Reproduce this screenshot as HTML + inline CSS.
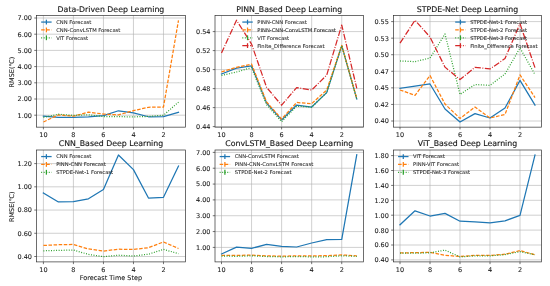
<!DOCTYPE html>
<html lang="en"><head><meta charset="utf-8"><title>RMSE forecast comparison</title>
<style>html,body{margin:0;padding:0;background:#fff}svg{display:block}text{font-family:"DejaVu Sans","Liberation Sans",sans-serif;fill:#1a1a1a;stroke:#1a1a1a;stroke-width:0.15px}.t{font-size:7.82px}.k{font-size:6.5px}.k{stroke-width:0.08px}.l{font-size:5.23px;stroke-width:0.05px}</style></head><body>
<svg width="550" height="286" viewBox="0 0 550 286">
<rect width="550" height="286" fill="#fff"/>
<g>
<path d="M43.4 15.5V127.15M73.42 15.5V127.15M103.44 15.5V127.15M133.46 15.5V127.15M163.48 15.5V127.15M36.5 115.2H185.4M36.5 99H185.4M36.5 82.8H185.4M36.5 66.6H185.4M36.5 50.4H185.4M36.5 34.2H185.4M36.5 18H185.4" stroke="#b0b0b0" stroke-width="0.6" fill="none"/>
<path d="M43.4 127.15v2.25M73.42 127.15v2.25M103.44 127.15v2.25M133.46 127.15v2.25M163.48 127.15v2.25M36.5 115.2h-2.25M36.5 99h-2.25M36.5 82.8h-2.25M36.5 66.6h-2.25M36.5 50.4h-2.25M36.5 34.2h-2.25M36.5 18h-2.25" stroke="#000" stroke-width="0.55" fill="none"/>
<clipPath id="c00"><rect x="36.5" y="15.5" width="148.9" height="111.65"/></clipPath>
<g clip-path="url(#c00)" fill="none" stroke-width="1.25" stroke-linejoin="round">
<polyline points="43.4,116.06 58.41,117.31 73.42,117.26 88.43,116.87 103.44,115.57 118.45,110.76 133.46,112.8 148.47,116.76 163.48,116.66 178.49,112.3" stroke="#1f77b4" stroke-linecap="square"/>
<polyline points="43.4,121.96 58.41,114.88 73.42,116.22 88.43,112.12 103.44,114.07 118.45,114.8 133.46,110.7 148.47,107.26 163.48,107.02 178.49,20.43" stroke="#ff7f0e" stroke-dasharray="3.55,1.54"/>
<polyline points="43.4,117.29 58.41,114.24 73.42,115.38 88.43,114.81 103.44,116.51 118.45,116.67 133.46,116.85 148.47,116.42 163.48,115.25 178.49,102.11" stroke="#2ca02c" stroke-dasharray="0.96,1.58"/>
</g>
<rect x="36.5" y="15.5" width="148.9" height="111.65" fill="none" stroke="#303030" stroke-width="0.7"/>
<text class="k" x="43.4" y="137.05" text-anchor="middle">10</text>
<text class="k" x="73.42" y="137.05" text-anchor="middle">8</text>
<text class="k" x="103.44" y="137.05" text-anchor="middle">6</text>
<text class="k" x="133.46" y="137.05" text-anchor="middle">4</text>
<text class="k" x="163.48" y="137.05" text-anchor="middle">2</text>
<text class="k" x="32" y="117.6" text-anchor="end">1.00</text>
<text class="k" x="32" y="101.4" text-anchor="end">2.00</text>
<text class="k" x="32" y="85.2" text-anchor="end">3.00</text>
<text class="k" x="32" y="69" text-anchor="end">4.00</text>
<text class="k" x="32" y="52.8" text-anchor="end">5.00</text>
<text class="k" x="32" y="36.6" text-anchor="end">6.00</text>
<text class="k" x="32" y="20.4" text-anchor="end">7.00</text>
<text class="t" x="110.95" y="11.6" text-anchor="middle">Data-Driven Deep Learning</text>
<text class="k" transform="translate(14.4 72.12) rotate(-90)" text-anchor="middle">RMSE(℃)</text>
<path d="M41.16 22.07h10.46" stroke="#1f77b4" stroke-width="1.25" fill="none"/>
<path d="M46.39 19.68v4.8" stroke="#1f77b4" stroke-width="1.25" fill="none"/>
<text class="l" x="56.16" y="23.97">CNN Forecast</text>
<path d="M41.16 29.92h10.46" stroke="#ff7f0e" stroke-width="1.25" stroke-dasharray="3.55,1.54" fill="none"/>
<path d="M46.39 27.52v4.8" stroke="#ff7f0e" stroke-width="1.25" fill="none"/>
<text class="l" x="56.16" y="31.82">CNN-ConvLSTM Forecast</text>
<path d="M41.16 37.77h10.46" stroke="#2ca02c" stroke-width="1.25" stroke-dasharray="0.96,1.58" fill="none"/>
<path d="M46.39 35.37v4.8" stroke="#2ca02c" stroke-width="1.25" fill="none"/>
<text class="l" x="56.16" y="39.66">ViT Forecast</text>
</g>
<g>
<path d="M221.5 15.5V127.15M251.56 15.5V127.15M281.62 15.5V127.15M311.68 15.5V127.15M341.74 15.5V127.15M215 126.6H363.5M215 107.6H363.5M215 88.6H363.5M215 69.6H363.5M215 50.6H363.5M215 31.6H363.5" stroke="#b0b0b0" stroke-width="0.6" fill="none"/>
<path d="M221.5 127.15v2.25M251.56 127.15v2.25M281.62 127.15v2.25M311.68 127.15v2.25M341.74 127.15v2.25M215 126.6h-2.25M215 107.6h-2.25M215 88.6h-2.25M215 69.6h-2.25M215 50.6h-2.25M215 31.6h-2.25" stroke="#000" stroke-width="0.55" fill="none"/>
<clipPath id="c10"><rect x="215" y="15.5" width="148.5" height="111.65"/></clipPath>
<g clip-path="url(#c10)" fill="none" stroke-width="1.25" stroke-linejoin="round">
<polyline points="221.5,74.06 236.53,68.18 251.56,65.99 266.59,103.04 281.62,119.95 296.65,105.03 311.68,107.03 326.71,92.59 341.74,45.66 356.77,98.95" stroke="#1f77b4" stroke-linecap="square"/>
<polyline points="221.5,71.79 236.53,67.32 251.56,64.09 266.59,102 281.62,119 296.65,102.47 311.68,103.61 326.71,90.03 341.74,45.38 356.77,98.58" stroke="#ff7f0e" stroke-dasharray="3.55,1.54"/>
<polyline points="221.5,75.49 236.53,71.98 251.56,67.61 266.59,104.75 281.62,121.66 296.65,106.17 311.68,107.12 326.71,92.4 341.74,45.85 356.77,99.05" stroke="#2ca02c" stroke-dasharray="0.96,1.58"/>
<polyline points="221.5,53.07 236.53,20.2 251.56,44.14 266.59,87.37 281.62,105.22 296.65,87.55 311.68,90.03 326.71,75.11 341.74,25.04 356.77,88.32" stroke="#d62728" stroke-dasharray="6.14,1.54,0.96,1.54"/>
</g>
<rect x="215" y="15.5" width="148.5" height="111.65" fill="none" stroke="#303030" stroke-width="0.7"/>
<text class="k" x="221.5" y="137.05" text-anchor="middle">10</text>
<text class="k" x="251.56" y="137.05" text-anchor="middle">8</text>
<text class="k" x="281.62" y="137.05" text-anchor="middle">6</text>
<text class="k" x="311.68" y="137.05" text-anchor="middle">4</text>
<text class="k" x="341.74" y="137.05" text-anchor="middle">2</text>
<text class="k" x="210.5" y="129" text-anchor="end">0.44</text>
<text class="k" x="210.5" y="110" text-anchor="end">0.46</text>
<text class="k" x="210.5" y="91" text-anchor="end">0.48</text>
<text class="k" x="210.5" y="72" text-anchor="end">0.50</text>
<text class="k" x="210.5" y="53" text-anchor="end">0.52</text>
<text class="k" x="210.5" y="34" text-anchor="end">0.54</text>
<text class="t" x="289.25" y="11.6" text-anchor="middle">PINN_Based Deep Learning</text>
<path d="M242.3 22.07h10.46" stroke="#1f77b4" stroke-width="1.25" fill="none"/>
<path d="M247.53 19.68v4.8" stroke="#1f77b4" stroke-width="1.25" fill="none"/>
<text class="l" x="257.3" y="23.97">PINN-CNN Forecast</text>
<path d="M242.3 29.92h10.46" stroke="#ff7f0e" stroke-width="1.25" stroke-dasharray="3.55,1.54" fill="none"/>
<path d="M247.53 27.52v4.8" stroke="#ff7f0e" stroke-width="1.25" fill="none"/>
<text class="l" x="257.3" y="31.82">PINN-CNN-ConvLSTM Forecast</text>
<path d="M242.3 37.77h10.46" stroke="#2ca02c" stroke-width="1.25" stroke-dasharray="0.96,1.58" fill="none"/>
<path d="M247.53 35.37v4.8" stroke="#2ca02c" stroke-width="1.25" fill="none"/>
<text class="l" x="257.3" y="39.66">ViT Forecast</text>
<path d="M242.3 45.61h10.46" stroke="#d62728" stroke-width="1.25" stroke-dasharray="6.14,1.54,0.96,1.54" fill="none"/>
<path d="M247.53 43.21v4.8" stroke="#d62728" stroke-width="1.25" fill="none"/>
<text class="l" x="257.3" y="47.51">Finite_Difference Forecast</text>
</g>
<g>
<path d="M400 15.5V127.15M430 15.5V127.15M460 15.5V127.15M490 15.5V127.15M520 15.5V127.15M393.4 121H541.5M393.4 104.43H541.5M393.4 87.87H541.5M393.4 71.3H541.5M393.4 54.73H541.5M393.4 38.17H541.5M393.4 21.6H541.5" stroke="#b0b0b0" stroke-width="0.6" fill="none"/>
<path d="M400 127.15v2.25M430 127.15v2.25M460 127.15v2.25M490 127.15v2.25M520 127.15v2.25M393.4 121h-2.25M393.4 104.43h-2.25M393.4 87.87h-2.25M393.4 71.3h-2.25M393.4 54.73h-2.25M393.4 38.17h-2.25M393.4 21.6h-2.25" stroke="#000" stroke-width="0.55" fill="none"/>
<clipPath id="c20"><rect x="393.4" y="15.5" width="148.1" height="111.65"/></clipPath>
<g clip-path="url(#c20)" fill="none" stroke-width="1.25" stroke-linejoin="round">
<polyline points="400,88.4 415,86.14 430,83.96 445,109.01 460,121.99 475,113.64 490,118.02 505,108.01 520,80.38 535,105.03" stroke="#1f77b4" stroke-linecap="square"/>
<polyline points="400,89.99 415,95.35 430,75.54 445,104.04 460,118.42 475,107.02 490,118.02 505,114.44 520,74.94 535,97.54" stroke="#ff7f0e" stroke-dasharray="3.55,1.54"/>
<polyline points="400,60.96 415,61.63 430,58.05 445,33.99 460,94.36 475,84.55 490,85.35 505,73.95 520,47.97 535,74.61" stroke="#2ca02c" stroke-dasharray="0.96,1.58"/>
<polyline points="400,43.2 415,20.27 430,36.97 445,67.13 460,79.58 475,67.26 490,68.98 505,58.58 520,23.65 535,67.79" stroke="#d62728" stroke-dasharray="6.14,1.54,0.96,1.54"/>
</g>
<rect x="393.4" y="15.5" width="148.1" height="111.65" fill="none" stroke="#303030" stroke-width="0.7"/>
<text class="k" x="400" y="137.05" text-anchor="middle">10</text>
<text class="k" x="430" y="137.05" text-anchor="middle">8</text>
<text class="k" x="460" y="137.05" text-anchor="middle">6</text>
<text class="k" x="490" y="137.05" text-anchor="middle">4</text>
<text class="k" x="520" y="137.05" text-anchor="middle">2</text>
<text class="k" x="388.9" y="123.4" text-anchor="end">0.40</text>
<text class="k" x="388.9" y="106.83" text-anchor="end">0.42</text>
<text class="k" x="388.9" y="90.27" text-anchor="end">0.45</text>
<text class="k" x="388.9" y="73.7" text-anchor="end">0.47</text>
<text class="k" x="388.9" y="57.13" text-anchor="end">0.50</text>
<text class="k" x="388.9" y="40.57" text-anchor="end">0.53</text>
<text class="k" x="388.9" y="24" text-anchor="end">0.55</text>
<text class="t" x="467.45" y="11.6" text-anchor="middle">STPDE-Net Deep Learning</text>
<path d="M455.2 22.07h10.46" stroke="#1f77b4" stroke-width="1.25" fill="none"/>
<path d="M460.43 19.68v4.8" stroke="#1f77b4" stroke-width="1.25" fill="none"/>
<text class="l" x="470.2" y="23.97">STPDE-Net-1 Forecast</text>
<path d="M455.2 29.92h10.46" stroke="#ff7f0e" stroke-width="1.25" stroke-dasharray="3.55,1.54" fill="none"/>
<path d="M460.43 27.52v4.8" stroke="#ff7f0e" stroke-width="1.25" fill="none"/>
<text class="l" x="470.2" y="31.82">STPDE-Net-2 Forecast</text>
<path d="M455.2 37.77h10.46" stroke="#2ca02c" stroke-width="1.25" stroke-dasharray="0.96,1.58" fill="none"/>
<path d="M460.43 35.37v4.8" stroke="#2ca02c" stroke-width="1.25" fill="none"/>
<text class="l" x="470.2" y="39.66">STPDE-Net-3 Forecast</text>
<path d="M455.2 45.61h10.46" stroke="#d62728" stroke-width="1.25" stroke-dasharray="6.14,1.54,0.96,1.54" fill="none"/>
<path d="M460.43 43.21v4.8" stroke="#d62728" stroke-width="1.25" fill="none"/>
<text class="l" x="470.2" y="47.51">Finite_Difference Forecast</text>
</g>
<g>
<path d="M43.4 150V261.9M73.42 150V261.9M103.44 150V261.9M133.46 150V261.9M163.48 150V261.9M36.5 256.5H185.4M36.5 233.28H185.4M36.5 210.05H185.4M36.5 186.82H185.4M36.5 163.6H185.4" stroke="#b0b0b0" stroke-width="0.6" fill="none"/>
<path d="M43.4 261.9v2.25M73.42 261.9v2.25M103.44 261.9v2.25M133.46 261.9v2.25M163.48 261.9v2.25M36.5 256.5h-2.25M36.5 233.28h-2.25M36.5 210.05h-2.25M36.5 186.82h-2.25M36.5 163.6h-2.25" stroke="#000" stroke-width="0.55" fill="none"/>
<clipPath id="c01"><rect x="36.5" y="150" width="148.9" height="111.9"/></clipPath>
<g clip-path="url(#c01)" fill="none" stroke-width="1.25" stroke-linejoin="round">
<polyline points="43.4,192.98 58.41,201.98 73.42,201.57 88.43,198.79 103.44,189.5 118.45,155.01 133.46,169.64 148.47,198.03 163.48,197.28 178.49,166.04" stroke="#1f77b4" stroke-linecap="square"/>
<polyline points="43.4,245.43 58.41,244.71 73.42,244.45 88.43,248.98 103.44,251.04 118.45,249.22 133.46,249.46 148.47,247.7 163.48,241.96 178.49,248.48" stroke="#ff7f0e" stroke-dasharray="3.55,1.54"/>
<polyline points="43.4,250.79 58.41,250.39 73.42,250.01 88.43,254.4 103.44,256.67 118.45,255.21 133.46,255.98 148.47,254.22 163.48,249.38 178.49,253.7" stroke="#2ca02c" stroke-dasharray="0.96,1.58"/>
</g>
<rect x="36.5" y="150" width="148.9" height="111.9" fill="none" stroke="#303030" stroke-width="0.7"/>
<text class="k" x="43.4" y="271.8" text-anchor="middle">10</text>
<text class="k" x="73.42" y="271.8" text-anchor="middle">8</text>
<text class="k" x="103.44" y="271.8" text-anchor="middle">6</text>
<text class="k" x="133.46" y="271.8" text-anchor="middle">4</text>
<text class="k" x="163.48" y="271.8" text-anchor="middle">2</text>
<text class="k" x="32" y="258.9" text-anchor="end">0.40</text>
<text class="k" x="32" y="235.68" text-anchor="end">0.60</text>
<text class="k" x="32" y="212.45" text-anchor="end">0.80</text>
<text class="k" x="32" y="189.22" text-anchor="end">1.00</text>
<text class="k" x="32" y="166" text-anchor="end">1.20</text>
<text class="t" x="110.95" y="146.1" text-anchor="middle">CNN_Based Deep Learning</text>
<text class="k" transform="translate(14.4 206.75) rotate(-90)" text-anchor="middle">RMSE(℃)</text>
<text class="k" x="110.95" y="280" text-anchor="middle">Forecast Time Step</text>
<path d="M41.16 156.57h10.46" stroke="#1f77b4" stroke-width="1.25" fill="none"/>
<path d="M46.39 154.17v4.8" stroke="#1f77b4" stroke-width="1.25" fill="none"/>
<text class="l" x="56.16" y="158.47">CNN Forecast</text>
<path d="M41.16 164.42h10.46" stroke="#ff7f0e" stroke-width="1.25" stroke-dasharray="3.55,1.54" fill="none"/>
<path d="M46.39 162.02v4.8" stroke="#ff7f0e" stroke-width="1.25" fill="none"/>
<text class="l" x="56.16" y="166.32">PINN-CNN Forecast</text>
<path d="M41.16 172.26h10.46" stroke="#2ca02c" stroke-width="1.25" stroke-dasharray="0.96,1.58" fill="none"/>
<path d="M46.39 169.86v4.8" stroke="#2ca02c" stroke-width="1.25" fill="none"/>
<text class="l" x="56.16" y="174.16">STPDE-Net-1 Forecast</text>
</g>
<g>
<path d="M221.5 150V261.9M251.56 150V261.9M281.62 150V261.9M311.68 150V261.9M341.74 150V261.9M215 247.4H363.5M215 231.57H363.5M215 215.73H363.5M215 199.9H363.5M215 184.07H363.5M215 168.23H363.5M215 152.4H363.5" stroke="#b0b0b0" stroke-width="0.6" fill="none"/>
<path d="M221.5 261.9v2.25M251.56 261.9v2.25M281.62 261.9v2.25M311.68 261.9v2.25M341.74 261.9v2.25M215 247.4h-2.25M215 231.57h-2.25M215 215.73h-2.25M215 199.9h-2.25M215 184.07h-2.25M215 168.23h-2.25M215 152.4h-2.25" stroke="#000" stroke-width="0.55" fill="none"/>
<clipPath id="c11"><rect x="215" y="150" width="148.5" height="111.9"/></clipPath>
<g clip-path="url(#c11)" fill="none" stroke-width="1.25" stroke-linejoin="round">
<polyline points="221.5,254 236.53,247.08 251.56,248.4 266.59,244.39 281.62,246.29 296.65,247 311.68,243 326.71,239.64 341.74,239.4 356.77,154.78" stroke="#1f77b4" stroke-linecap="square"/>
<polyline points="221.5,255.35 236.53,255.28 251.56,255.22 266.59,255.86 281.62,256.14 296.65,255.86 311.68,255.88 326.71,255.66 341.74,254.91 356.77,255.8" stroke="#ff7f0e" stroke-dasharray="3.55,1.54"/>
<polyline points="221.5,256.16 236.53,256.29 251.56,255.81 266.59,256.49 281.62,256.84 296.65,256.57 311.68,256.83 326.71,256.74 341.74,255.8 356.77,256.34" stroke="#2ca02c" stroke-dasharray="0.96,1.58"/>
</g>
<rect x="215" y="150" width="148.5" height="111.9" fill="none" stroke="#303030" stroke-width="0.7"/>
<text class="k" x="221.5" y="271.8" text-anchor="middle">10</text>
<text class="k" x="251.56" y="271.8" text-anchor="middle">8</text>
<text class="k" x="281.62" y="271.8" text-anchor="middle">6</text>
<text class="k" x="311.68" y="271.8" text-anchor="middle">4</text>
<text class="k" x="341.74" y="271.8" text-anchor="middle">2</text>
<text class="k" x="210.5" y="249.8" text-anchor="end">1.00</text>
<text class="k" x="210.5" y="233.97" text-anchor="end">2.00</text>
<text class="k" x="210.5" y="218.13" text-anchor="end">3.00</text>
<text class="k" x="210.5" y="202.3" text-anchor="end">4.00</text>
<text class="k" x="210.5" y="186.47" text-anchor="end">5.00</text>
<text class="k" x="210.5" y="170.63" text-anchor="end">6.00</text>
<text class="k" x="210.5" y="154.8" text-anchor="end">7.00</text>
<text class="t" x="289.25" y="146.1" text-anchor="middle">ConvLSTM_Based Deep Learning</text>
<path d="M219.66 156.57h10.46" stroke="#1f77b4" stroke-width="1.25" fill="none"/>
<path d="M224.89 154.17v4.8" stroke="#1f77b4" stroke-width="1.25" fill="none"/>
<text class="l" x="234.66" y="158.47">CNN-ConvLSTM Forecast</text>
<path d="M219.66 164.42h10.46" stroke="#ff7f0e" stroke-width="1.25" stroke-dasharray="3.55,1.54" fill="none"/>
<path d="M224.89 162.02v4.8" stroke="#ff7f0e" stroke-width="1.25" fill="none"/>
<text class="l" x="234.66" y="166.32">PINN-CNN-ConvLSTM Forecast</text>
<path d="M219.66 172.26h10.46" stroke="#2ca02c" stroke-width="1.25" stroke-dasharray="0.96,1.58" fill="none"/>
<path d="M224.89 169.86v4.8" stroke="#2ca02c" stroke-width="1.25" fill="none"/>
<text class="l" x="234.66" y="174.16">STPDE-Net-2 Forecast</text>
</g>
<g>
<path d="M400 150V261.9M430 150V261.9M460 150V261.9M490 150V261.9M520 150V261.9M393.4 259.9H541.5M393.4 245H541.5M393.4 230.1H541.5M393.4 215.2H541.5M393.4 200.3H541.5M393.4 185.4H541.5M393.4 170.5H541.5M393.4 155.6H541.5" stroke="#b0b0b0" stroke-width="0.6" fill="none"/>
<path d="M400 261.9v2.25M430 261.9v2.25M460 261.9v2.25M490 261.9v2.25M520 261.9v2.25M393.4 259.9h-2.25M393.4 245h-2.25M393.4 230.1h-2.25M393.4 215.2h-2.25M393.4 200.3h-2.25M393.4 185.4h-2.25M393.4 170.5h-2.25M393.4 155.6h-2.25" stroke="#000" stroke-width="0.55" fill="none"/>
<clipPath id="c21"><rect x="393.4" y="150" width="148.1" height="111.9"/></clipPath>
<g clip-path="url(#c21)" fill="none" stroke-width="1.25" stroke-linejoin="round">
<polyline points="400,224.81 415,210.8 430,216.02 445,213.41 460,221.23 475,221.98 490,222.8 505,220.79 520,215.42 535,155" stroke="#1f77b4" stroke-linecap="square"/>
<polyline points="400,252.91 415,252.64 430,252.29 445,255.21 460,256.53 475,255.32 490,255.39 505,254.24 520,250.59 535,254.76" stroke="#ff7f0e" stroke-dasharray="3.55,1.54"/>
<polyline points="400,253.15 415,253.22 430,252.82 445,250.12 460,256.91 475,255.8 490,255.89 505,254.61 520,251.69 535,254.69" stroke="#2ca02c" stroke-dasharray="0.96,1.58"/>
</g>
<rect x="393.4" y="150" width="148.1" height="111.9" fill="none" stroke="#303030" stroke-width="0.7"/>
<text class="k" x="400" y="271.8" text-anchor="middle">10</text>
<text class="k" x="430" y="271.8" text-anchor="middle">8</text>
<text class="k" x="460" y="271.8" text-anchor="middle">6</text>
<text class="k" x="490" y="271.8" text-anchor="middle">4</text>
<text class="k" x="520" y="271.8" text-anchor="middle">2</text>
<text class="k" x="388.9" y="262.3" text-anchor="end">0.40</text>
<text class="k" x="388.9" y="247.4" text-anchor="end">0.60</text>
<text class="k" x="388.9" y="232.5" text-anchor="end">0.80</text>
<text class="k" x="388.9" y="217.6" text-anchor="end">1.00</text>
<text class="k" x="388.9" y="202.7" text-anchor="end">1.20</text>
<text class="k" x="388.9" y="187.8" text-anchor="end">1.40</text>
<text class="k" x="388.9" y="172.9" text-anchor="end">1.60</text>
<text class="k" x="388.9" y="158" text-anchor="end">1.80</text>
<text class="t" x="467.45" y="146.1" text-anchor="middle">ViT_Based Deep Learning</text>
<path d="M398.06 156.57h10.46" stroke="#1f77b4" stroke-width="1.25" fill="none"/>
<path d="M403.29 154.17v4.8" stroke="#1f77b4" stroke-width="1.25" fill="none"/>
<text class="l" x="413.06" y="158.47">ViT Forecast</text>
<path d="M398.06 164.42h10.46" stroke="#ff7f0e" stroke-width="1.25" stroke-dasharray="3.55,1.54" fill="none"/>
<path d="M403.29 162.02v4.8" stroke="#ff7f0e" stroke-width="1.25" fill="none"/>
<text class="l" x="413.06" y="166.32">PINN-ViT Forecast</text>
<path d="M398.06 172.26h10.46" stroke="#2ca02c" stroke-width="1.25" stroke-dasharray="0.96,1.58" fill="none"/>
<path d="M403.29 169.86v4.8" stroke="#2ca02c" stroke-width="1.25" fill="none"/>
<text class="l" x="413.06" y="174.16">STPDE-Net-3 Forecast</text>
</g>
</svg></body></html>
